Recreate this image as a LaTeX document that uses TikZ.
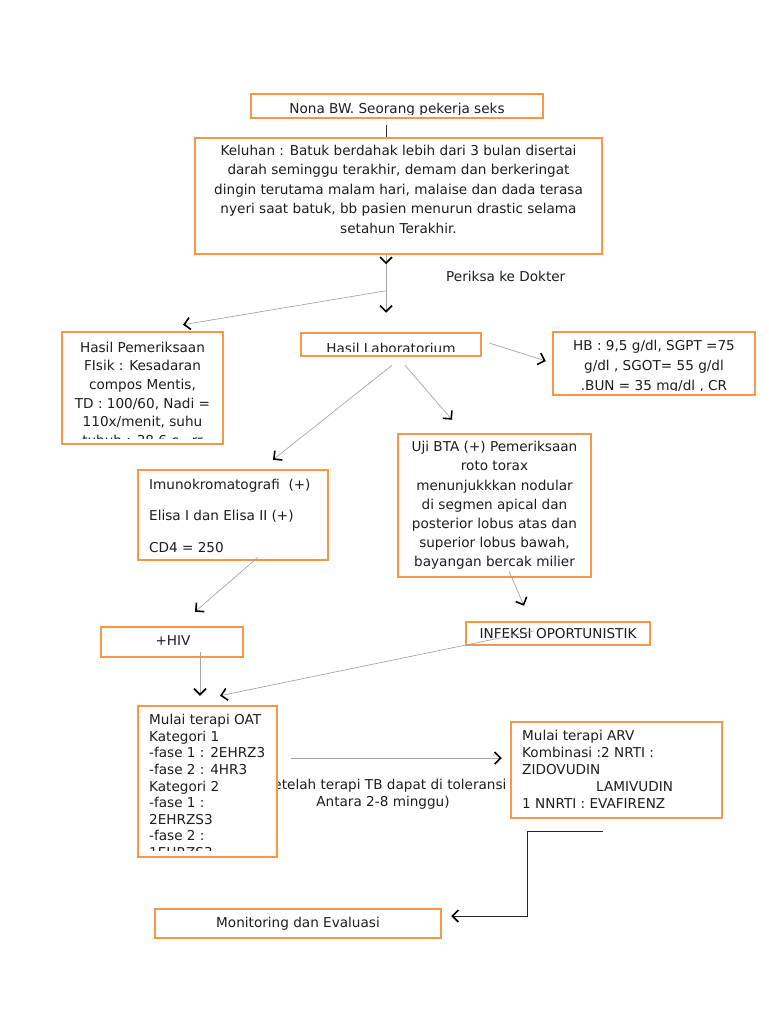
\documentclass[tikz,border=0pt]{standalone}
\usepackage{fontspec}
\setmainfont{DejaVu Sans}
\usetikzlibrary{arrows.meta,calc}
\definecolor{boxorange}{RGB}{247,150,70}
\definecolor{txtc}{RGB}{30,30,30}
\begin{document}
\begin{tikzpicture}[x=1pt,y=-1pt,
  box/.style={draw=boxorange,line width=2.5pt,fill=white,inner sep=0pt},
  txt/.style={inner sep=0pt,text=txtc,font=\fontsize{13.6}{#1}\selectfont},
  txt/.default=18,
  tip/.style={-{Straight Barb[length=6pt,width=12pt,line width=1.6pt,color=black]}},
  conn/.style={draw=gray!70,line width=0.7pt,tip},
  elbow/.style={draw=black!85,line width=1pt,tip}
]
\fill[white] (0,0) rectangle (768,1024);
\useasboundingbox (0,0) rectangle (768,1024);

% ---- boxes (empty frames) ----
\node[box,minimum width=292pt,minimum height=24pt] (nona) at (397,106) {};
\draw[conn,draw=black!80] ($(nona.south)+(-11,6)$) -- ($(nona.south)+(-11,29)$);
\coordinate (jtop) at ($(nona.south)+(-11,145)$);
\draw[conn] ($(nona.south)+(-11,122)$) -- (jtop);
\node[box,minimum width=407pt,minimum height=116pt] (kel) at (398.5,196) {};
\node[box,minimum width=161pt,minimum height=112pt] (fis) at (142.5,388) {};
\node[box,minimum width=180pt,minimum height=23pt] (lab) at (391,344.5) {};
\node[box,minimum width=202pt,minimum height=63pt] (hb) at (654,363.5) {};
\node[box,minimum width=190pt,minimum height=90pt] (imu) at (233,515) {};
\node[box,minimum width=193pt,minimum height=143pt] (bta) at (494.5,505.5) {};
\node[box,minimum width=142pt,minimum height=30pt] (hiv) at (172,642) {};
\node[box,minimum width=184pt,minimum height=23pt] (inf) at (558,633.5) {};
\node[txt=17,align=center] (lbl) at (383,794.5) {(Setelah terapi TB dapat di toleransi\\Antara 2-8 minggu)};
\node[box,minimum width=139pt,minimum height=151pt] (oat) at (207.5,781.5) {};
\node[box,minimum width=211pt,minimum height=96pt] (arv) at (616.5,770) {};
\node[box,minimum width=286pt,minimum height=29pt] (mon) at (298,923.5) {};

% ---- texts ----
\begin{scope}
  \clip ($(nona.south west)+(1.5,-5)$) rectangle ($(nona.north east)+(-1.5,1.5)$);
  \node[txt] (nona-t) at (397,110) {Nona BW. Seorang pekerja seks};
\end{scope}
\node[txt=19.5,align=center] (kel-t) at (398.5,189) {Keluhan : Batuk berdahak lebih dari 3 bulan disertai\\darah seminggu terakhir, demam dan berkeringat\\dingin terutama malam hari, malaise dan dada terasa\\nyeri saat batuk, bb pasien menurun drastic selama\\setahun Terakhir.};
\begin{scope}
  \clip ($(fis.south west)+(1.5,-7)$) rectangle ($(fis.north east)+(-1.5,1.5)$);
  \node[txt=18.6,align=center] (fis-t) at (142.5,394.5) {Hasil Pemeriksaan\\FIsik : Kesadaran\\compos Mentis,\\TD : 100/60, Nadi =\\110x/menit, suhu\\tubuh : 38,6 c , rr};
\end{scope}
\begin{scope}
  \clip ($(lab.south west)+(1.5,-5.5)$) rectangle ($(lab.north east)+(-1.5,1.5)$);
  \node[txt] (lab-t) at (391,348.5) {Hasil Laboratorium};
\end{scope}
\begin{scope}
  \clip ($(hb.south west)+(1.5,-6)$) rectangle ($(hb.north east)+(-1.5,1.5)$);
  \node[txt=20,align=center] (hb-t) at (654,367) {HB : 9,5 g/dl, SGPT =75\\g/dl , SGOT= 55 g/dl\\.BUN = 35 mg/dl , CR};
\end{scope}
\node[txt=31.5,align=left,anchor=west] (imu-t) at (149,515.5) {Imunokromatografi~ (+)\\Elisa I dan Elisa II (+)\\CD4 = 250};
\node[txt=19.2,align=center] (bta-t) at (494.5,505.5) {Uji BTA (+) Pemeriksaan\\roto torax\\menunjukkkan nodular\\di segmen apical dan\\posterior lobus atas dan\\superior lobus bawah,\\bayangan bercak milier};
\node[txt] (hiv-t) at (173,641) {+HIV};
\node[txt] (inf-t) at (558,634) {INFEKSI OPORTUNISTIK};
\begin{scope}
  \clip ($(oat.south west)+(1.5,-8)$) rectangle ($(oat.north east)+(-1.5,1.5)$);
  \node[txt=16.6,align=left,anchor=west] (oat-t) at (149,786) {Mulai terapi OAT\\Kategori 1\\-fase 1 : 2EHRZ3\\-fase 2 : 4HR3\\Kategori 2\\-fase 1 :\\2EHRZS3\\-fase 2 :\\1EHRZS3};
\end{scope}
\node[txt=17,align=left,anchor=west] (arv-t) at (522,769) {Mulai terapi ARV\\Kombinasi :2 NRTI :\\ZIDOVUDIN\\\hspace*{74pt}LAMIVUDIN\\1 NNRTI : EVAFIRENZ};
\node[txt] (mon-t) at (298,923.5) {Monitoring dan Evaluasi};
\node[txt,anchor=west] (dok) at (446,276) {Periksa ke Dokter};

% ---- connectors ----
\draw[conn] (jtop) -- ($(lab.north)+(-5,-19)$);
\coordinate (jmid) at ($(lab.north)+(-5,-41)$);
\draw[conn] (jmid) -- ($(fis.north)+(40.5,-6)$);
\draw[conn] ($(lab.east)+(7,-1.5)$) -- ($(hb.west)+(-6,-2.5)$);
\draw[conn] ($(lab.south)+(14,8)$) -- ($(bta.north)+(-42.5,-13)$);
\draw[conn] ($(lab.south)+(1,8)$) -- ($(imu.north)+(40,-9)$);
\draw[conn] ($(imu.south)+(25,-4)$) -- ($(hiv.north)+(23,-14)$);
\draw[conn] ($(bta.south)+(14.5,-7)$) -- ($(inf.north)+(-34,-15)$);
\draw[conn] ($(hiv.south)+(28,-6)$) -- ($(oat.north)+(-7.5,-9)$);
\draw[conn] ($(inf.west)+(69,-2.5)$) -- ($(oat.north)+(12.5,-9)$);
\draw[conn] ($(oat.east)+(13,-23.5)$) -- ($(arv.west)+(-8,-12)$);
\coordinate (arvc) at ($(arv.south)+(-13.5,12)$);
\draw[elbow] (arvc) -- ++(-76,0) |- ($(mon.east)+(9,-7.5)$);
\end{tikzpicture}
\end{document}
